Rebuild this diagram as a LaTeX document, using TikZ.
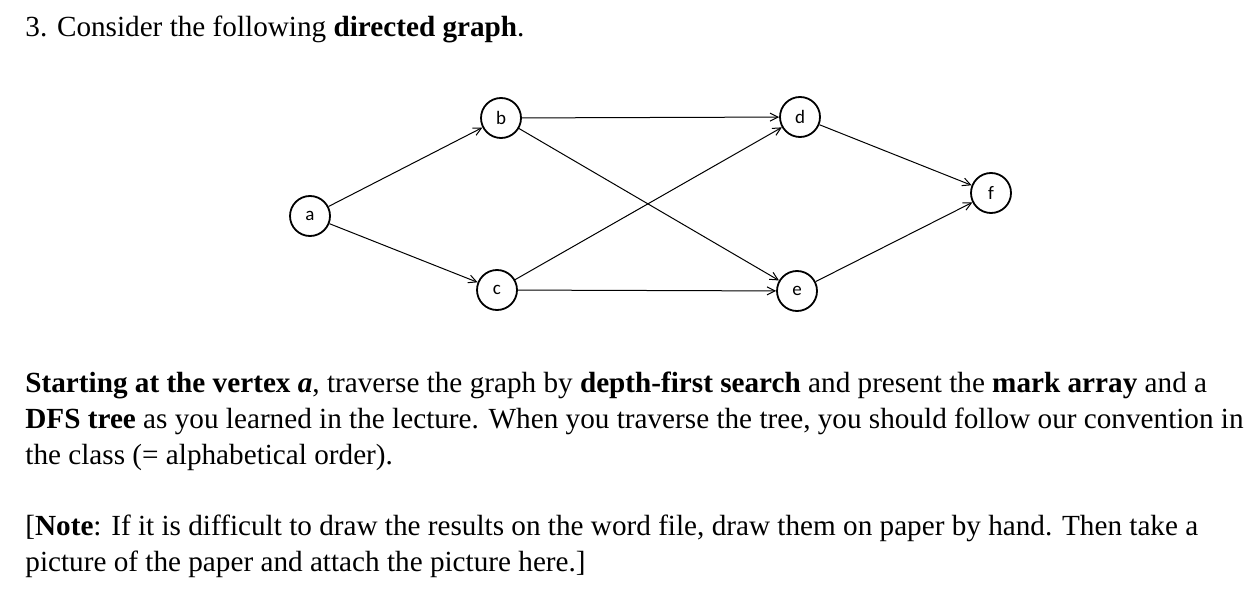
\documentclass[tikz,border=0pt]{standalone}
\usepackage{fontspec}
\setmainfont{Liberation Serif}
\newfontfamily\lblfont{Carlito}
\usetikzlibrary{arrows.meta}
\begin{document}
\begin{tikzpicture}[x=0.5pt,y=-0.5pt,
  vert/.style={circle,draw,line width=0.9pt,minimum size=20pt,inner sep=0pt,font=\lblfont\fontsize{9.5}{10}\selectfont},
  edge/.style={draw,line width=0.5pt,-{Straight Barb[length=4pt,width=4pt]}},
  txt/.style={anchor=west,inner sep=0pt,font=\fontsize{14.6}{17}\selectfont}]
\useasboundingbox (0,0) rectangle (1256,604);
\node[vert] (a) at (310,216) {a};
\node[vert] (b) at (501,118) {b};
\node[vert] (c) at (497,290) {c};
\node[vert] (d) at (800,117) {d};
\node[vert] (e) at (797,291) {e};
\node[vert] (f) at (991,193) {f};
\draw[edge] (a) -- (b);
\draw[edge] (a) -- (c);
\draw[edge] (b) -- (d);
\draw[edge] (b) -- (e);
\draw[edge] (c) -- (d);
\draw[edge] (c) -- (e);
\draw[edge] (d) -- (f);
\draw[edge] (e) -- (f);
\node[txt] (t0) at (25,29) {3. Consider the following \textbf{directed graph}.};
\node[txt] (t1) at (25,385) {\textbf{Starting at the vertex \textit{a}}, traverse the graph by \textbf{depth-first search} and present the \textbf{mark array} and a};
\node[txt] (t2) at (25,421) {\textbf{DFS tree} as you learned in the lecture. When you traverse the tree, you should follow our convention in};
\node[txt] (t3) at (25,457) {the class (= alphabetical order).};
\node[txt] (t4) at (25,528) {[\textbf{Note}: If it is difficult to draw the results on the word file, draw them on paper by hand. Then take a};
\node[txt] (t5) at (25,564) {picture of the paper and attach the picture here.]};
\end{tikzpicture}
\end{document}
